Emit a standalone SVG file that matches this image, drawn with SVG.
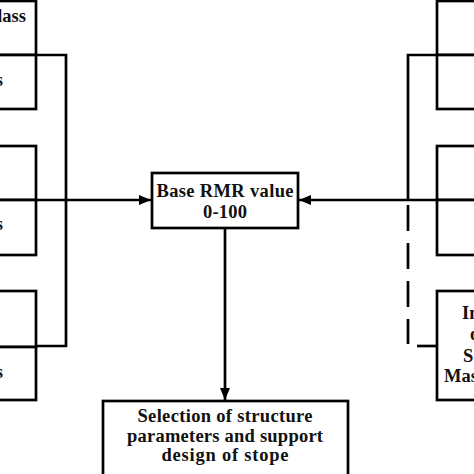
<svg xmlns="http://www.w3.org/2000/svg" width="474" height="474" viewBox="0 0 474 474">
<defs>
<style>
.box{fill:#fff;stroke:#000;stroke-width:2.7}
.ln{fill:none;stroke:#000;stroke-width:2.7}
.dash{fill:none;stroke:#000;stroke-width:2.7;stroke-dasharray:26 12}
.t{font-family:"Liberation Serif","Times New Roman",serif;font-weight:bold;font-size:18.5px;fill:#111}
.c{text-anchor:middle}
.e{text-anchor:end}
</style>
<marker id="ah" markerWidth="12" markerHeight="10" refX="12" refY="5" orient="auto" markerUnits="userSpaceOnUse">
<path d="M0,0 L12,5 L0,10 Z" fill="#000"/>
</marker>
</defs>
<rect width="474" height="474" fill="#fff"/>

<g id="connectors">
<path class="ln" d="M36,55 H66 V346 H36"/>
<path class="ln" d="M0,200 H151" marker-end="url(#ah)"/>
<path class="ln" d="M474,200 H299" marker-end="url(#ah)"/>
<path class="ln" d="M437,55 H408 V200"/>
<path class="dash" d="M408,205 V344"/>
<path class="ln" d="M417,346 H437"/>
<path class="ln" d="M225,228 V400" marker-end="url(#ah)"/>
</g>

<g id="left1"><rect class="box" x="-100" y="1" width="136" height="54"/><text class="t e" x="26" y="22">Class</text></g>
<g id="left2"><rect class="box" x="-100" y="55" width="136" height="54"/><text class="t e" x="3" y="86">s</text></g>
<g id="left3"><rect class="box" x="-100" y="146" width="136" height="54"/></g>
<g id="left4"><rect class="box" x="-100" y="200" width="136" height="55"/><text class="t e" x="3" y="230">s</text></g>
<g id="left5"><rect class="box" x="-100" y="291" width="136" height="56"/></g>
<g id="left6"><rect class="box" x="-100" y="347" width="136" height="53"/><text class="t e" x="3" y="378">s</text></g>

<g id="right1"><rect class="box" x="437" y="1" width="100" height="54"/></g>
<g id="right2"><rect class="box" x="437" y="55" width="100" height="54"/></g>
<g id="right3"><rect class="box" x="437" y="146" width="100" height="54"/></g>
<g id="right4"><rect class="box" x="437" y="200" width="100" height="55"/></g>
<g id="right5"><rect class="box" x="437" y="291" width="100" height="109"/>
<text class="t" x="462" y="319">In</text>
<text class="t" x="470" y="340">o</text>
<text class="t" x="463" y="362">S</text>
<text class="t" x="444" y="382">Mas</text>
</g>

<g id="base">
<rect class="box" x="152" y="173" width="146" height="55"/>
<text class="t c" x="225" y="197" textLength="137" lengthAdjust="spacing">Base RMR value</text>
<text class="t c" x="225" y="218" textLength="44" lengthAdjust="spacing">0-100</text>
</g>

<g id="selection">
<rect class="box" x="103" y="401" width="245" height="90"/>
<text class="t c" x="225" y="422" textLength="175" lengthAdjust="spacing">Selection of structure</text>
<text class="t c" x="225" y="442" textLength="196" lengthAdjust="spacing">parameters and support</text>
<text class="t c" x="225" y="461" textLength="127" lengthAdjust="spacing">design of stope</text>
</g>
</svg>
